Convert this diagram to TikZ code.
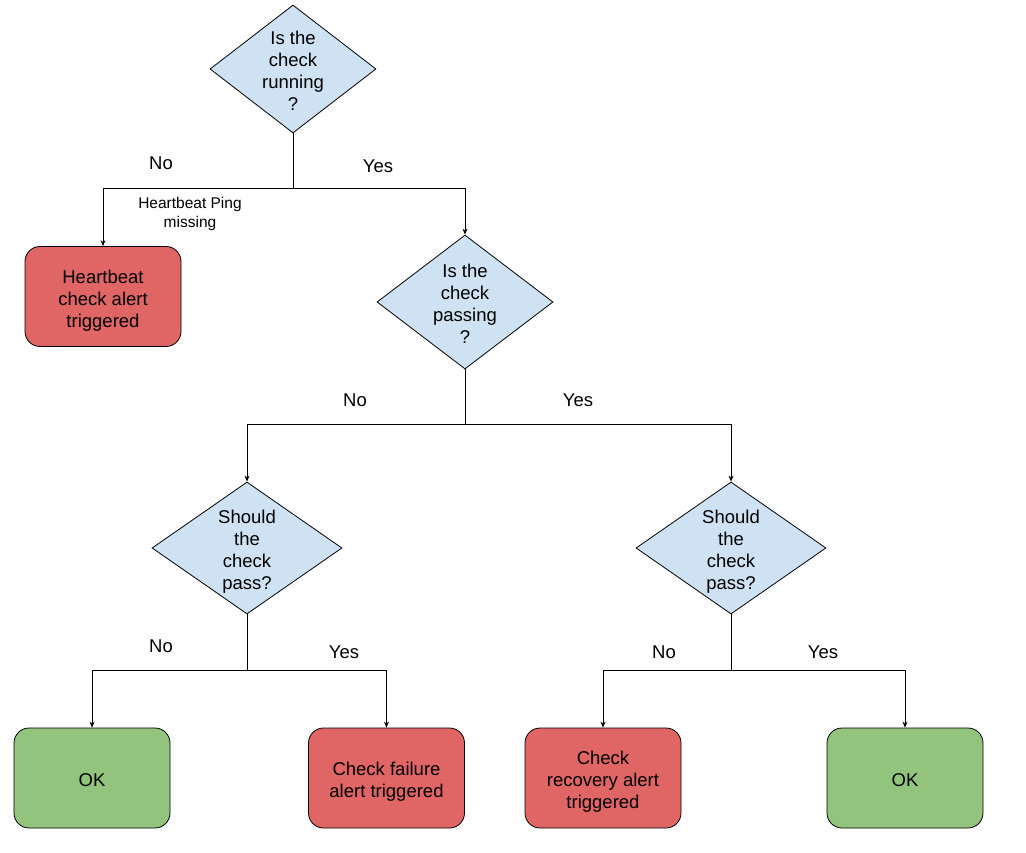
\documentclass[tikz,border=0pt]{standalone}
\usepackage{fontspec}
\setmainfont{Liberation Sans}
\usetikzlibrary{shapes.geometric,arrows.meta}
\definecolor{qblue}{HTML}{CFE2F3}
\definecolor{ared}{HTML}{E06666}
\definecolor{okgreen}{HTML}{93C47D}
\newcommand\ctext[1]{\makebox[0pt]{\raisebox{-8.5pt}[0pt][0pt]{\begin{tabular}{@{}c@{}}#1\end{tabular}}}}
\tikzset{
  dec/.style={diamond,draw=black,line width=0.8pt,fill=qblue,inner sep=0pt,font=\fontsize{18.5}{22}\selectfont},
  res/.style={rectangle,rounded corners=15pt,draw=black,line width=0.8pt,minimum width=156pt,minimum height=100pt,font=\fontsize{18.5}{22}\selectfont,inner sep=0pt},
  redbox/.style={res,fill=ared},
  greenbox/.style={res,fill=okgreen},
  conn/.style={line width=0.8pt,-{Stealth[length=6pt,width=5pt]}},
  lbl/.style={font=\fontsize{18.5}{22}\selectfont,inner sep=0pt},
  smalllbl/.style={font=\fontsize{15.5}{19}\selectfont,inner sep=0pt,align=center}
}
\begin{document}
\begin{tikzpicture}[x=1pt,y=-1pt]
\useasboundingbox (0,0) rectangle (1026,853);
\node[dec,minimum width=166pt,minimum height=128pt] (d1) at (293,69) {\ctext{Is the\\check\\running\\?}};
\node[dec,minimum width=176pt,minimum height=134pt] (d2) at (465,302) {\ctext{Is the\\check\\passing\\?}};
\node[dec,minimum width=190pt,minimum height=132pt] (d3) at (247,548) {\ctext{Should\\the\\check\\pass?}};
\node[dec,minimum width=190pt,minimum height=132pt] (d4) at (731,548) {\ctext{Should\\the\\check\\pass?}};
\node[redbox] (hb) at (103,296.5) {\ctext{Heartbeat\\check alert\\triggered}};
\node[greenbox] (ok1) at (92,778) {\ctext{OK}};
\node[redbox] (cf) at (386.5,778) {\ctext{Check failure\\alert triggered}};
\node[redbox] (cr) at (603,778) {\ctext{Check\\recovery alert\\triggered}};
\node[greenbox] (ok2) at (905,778) {\ctext{OK}};
\coordinate (j1) at (293,188);
\coordinate (j2) at (465,424);
\coordinate (j3) at (247,670);
\coordinate (j4) at (731,670);
\draw[line width=0.8pt] (d1.south) -- (j1);
\draw[conn] (j1) -| (hb.north);
\draw[conn] (j1) -| (d2.north);
\draw[line width=0.8pt] (d2.south) -- (j2);
\draw[conn] (j2) -| (d3.north);
\draw[conn] (j2) -| (d4.north);
\draw[line width=0.8pt] (d3.south) -- (j3);
\draw[conn] (j3) -| (ok1.north);
\draw[conn] (j3) -| (cf.north);
\draw[line width=0.8pt] (d4.south) -- (j4);
\draw[conn] (j4) -| (cr.north);
\draw[conn] (j4) -| (ok2.north);
\node[lbl] (l1) at (161,163) {No};
\node[lbl] (l2) at (378,166) {Yes};
\node[smalllbl] (l3) at (190,214) {Heartbeat Ping\\missing};
\node[lbl] (l4) at (355,400) {No};
\node[lbl] (l5) at (578,400) {Yes};
\node[lbl] (l6) at (161,646) {No};
\node[lbl] (l7) at (344,652) {Yes};
\node[lbl] (l8) at (664,652) {No};
\node[lbl] (l9) at (823,652) {Yes};
\end{tikzpicture}
\end{document}
